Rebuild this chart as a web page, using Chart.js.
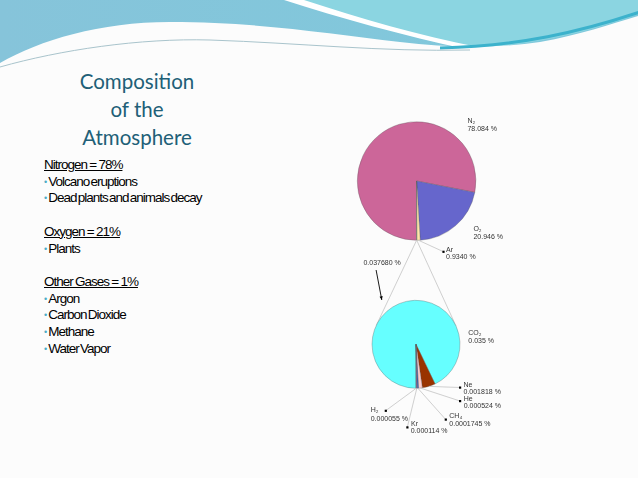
<!DOCTYPE html>
<html>
<head>
<meta charset="utf-8">
<script src="https://cdn.jsdelivr.net/npm/chart.js@4.4.0/dist/chart.umd.min.js"></script>
<style>
  html, body { margin: 0; padding: 0; }
  body { width: 638px; height: 478px; background: #fcfcfc; position: relative; overflow: hidden; }
  #header { position: absolute; left: 0; top: 0; }
  #title {
    position: absolute; left: 37px; top: 67px; width: 200px;
    text-align: center; font-family: Lato, "Open Sans", sans-serif;
    font-size: 20.5px; line-height: 28px; color: #215f77;
  }
  #notes {
    position: absolute; left: 44px; top: 157px;
    font-family: "Liberation Sans", Arial, sans-serif; font-size: 13.5px;
    line-height: 16.7px; color: #000; letter-spacing: -1px; word-spacing: -1.5px;
  }
  #notes .head { text-decoration: underline; letter-spacing: -1px; word-spacing: -0.5px; }
  #notes .dot { color: #4bacc6; font-size: 9px; margin-right: 2px; vertical-align: 1px; }
  #pies { position: absolute; left: 330px; top: 100px; width: 220px; height: 350px; }
  #pies canvas { position: absolute; left: 0; top: 0; }
</style>
</head>
<body>
<svg id="header" width="638" height="80">
  <defs>
    <linearGradient id="sky" x1="0" y1="0" x2="1" y2="0">
      <stop offset="0" stop-color="#86c4da"/>
      <stop offset="1" stop-color="#7fc9dc"/>
    </linearGradient>
  </defs>
  <rect width="638" height="80" fill="url(#sky)"/>
  <path fill="#8bd5e1" d="M300,0 L638,0 L638,14 C590,32 530,46 470,48 C400,32 340,14 300,0 Z"/>
  <path fill="#ffffff" d="M284,0 L304,0 C360,18 420,36 478,47 L466,49 C405,36 340,18 284,0 Z"/>
  <path fill="#fcfcfc" d="M0,80 L0,63 C40,40 100,22 170,22 C260,22 330,34 400,42 C450,48 500,48 540,42 C580,35 610,24 638,16 L638,80 Z"/>
  <path fill="none" stroke="#3cb2cc" stroke-width="3" d="M440,48 C520,46 580,32 640,12"/>
  <path fill="none" stroke="#a9c4cc" stroke-width="1" d="M0,67 C60,50 140,38 210,40 C300,43 380,52 470,50"/>
</svg>

<div id="title">Composition<br>of the<br>Atmosphere</div>

<div id="notes">
  <div><span class="head">Nitrogen = 78%</span></div>
  <div><span class="dot">•</span>Volcano eruptions</div>
  <div><span class="dot">•</span>Dead plants and animals decay</div>
  <div>&nbsp;</div>
  <div><span class="head">Oxygen = 21%</span></div>
  <div><span class="dot">•</span>Plants</div>
  <div>&nbsp;</div>
  <div><span class="head">Other Gases = 1%</span></div>
  <div><span class="dot">•</span>Argon</div>
  <div><span class="dot">•</span>Carbon Dioxide</div>
  <div><span class="dot">•</span>Methane</div>
  <div><span class="dot">•</span>Water Vapor</div>
</div>

<div id="pies">
  <canvas id="mainPie" width="220" height="350"></canvas>
  <canvas id="tracePie" width="220" height="350"></canvas>
</div>

<script>
// whole atmosphere, percent by volume
const mainGases = ['N₂', 'O₂', 'Ar', 'Other'];
const mainPercent = [78.084, 20.946, 0.934, 0.03768];
const mainPercentText = ['78.084 %', '20.946 %', '0.9340 %', '0.037680 %'];
const mainColors = ['#cc6699', '#6666cc', '#ffe6a8', '#66ffff'];

// breakdown of the "other" slice
const traceGases = ['CO₂', 'Ne', 'He', 'CH₄', 'Kr', 'H₂'];
const tracePercent = [0.035, 0.001818, 0.000524, 0.0001745, 0.000114, 0.000055];
const tracePercentText = ['0.035 %', '0.001818 %', '0.000524 %', '0.0001745 %', '0.000114 %', '0.000055 %'];
const traceColors = ['#66ffff', '#993300', '#ffcccc', '#3366cc', '#6666cc', '#cc6699'];

// label placement, offsets from the pie centre
const mainLabelLayout = [
  { name: [50.8, -60], value: [50.8, -51.7] },
  { name: [56.8, 48.3], value: [56.8, 56.3] },
  { dot: [26.8, 70.7], name: [29.5, 69], value: [29.5, 76] },
  { value: [-53.2, 82], arrow: [[-40.5, 89], [-34.8, 119]] }
];
const traceLabelLayout = [
  { name: [52.3, -11], value: [52.3, -3.6] },
  { dot: [44, 43.2], name: [47.5, 40.7], value: [47.5, 47.4] },
  { dot: [44, 56.7], name: [47.7, 55], value: [47.7, 62.2] },
  { dot: [29.7, 75.2], name: [33.3, 72], value: [33.3, 79.4] },
  { dot: [-8.7, 83], name: [-5, 80], value: [-5.3, 87] },
  { dot: [-30.3, 66.4], name: [-45.3, 66], value: [-45.3, 74.5] }
];

let mainChart = null;

const sliceLabels = {
  id: 'sliceLabels',
  beforeDatasetsDraw(chart, args, opts) {
    // pie-of-pie connectors from the "other" slice to the second pie
    if (!opts.connectFrom) return;
    const src = opts.connectFrom.getDatasetMeta(0).data[opts.connectIndex];
    const c = chart.getDatasetMeta(0).data[0];
    const ctx = chart.ctx;
    ctx.save();
    ctx.strokeStyle = '#c9c9c9';
    ctx.lineWidth = 0.9;
    [src.startAngle, src.endAngle].forEach((a, k) => {
      const px = src.x + src.outerRadius * Math.cos(a);
      const py = src.y + src.outerRadius * Math.sin(a);
      const d = Math.hypot(px - c.x, py - c.y);
      const phi = Math.atan2(py - c.y, px - c.x);
      const t = phi + (k === 0 ? 1 : -1) * Math.acos(c.outerRadius / d);
      ctx.beginPath();
      ctx.moveTo(px, py);
      ctx.lineTo(c.x + c.outerRadius * Math.cos(t), c.y + c.outerRadius * Math.sin(t));
      ctx.stroke();
    });
    ctx.restore();
  },
  afterDatasetsDraw(chart, args, opts) {
    const meta = chart.getDatasetMeta(0);
    const ctx = chart.ctx;
    const cx = meta.data[0].x, cy = meta.data[0].y;
    ctx.save();
    ctx.font = '7px "Liberation Sans", Arial, sans-serif';
    ctx.textBaseline = 'middle';
    ctx.textAlign = 'left';
    opts.layout.forEach((l, i) => {
      const arc = meta.data[i];
      if (l.dot) {
        const mid = (arc.startAngle + arc.endAngle) / 2;
        ctx.strokeStyle = '#c9c9c9';
        ctx.lineWidth = 0.9;
        ctx.beginPath();
        ctx.moveTo(cx + arc.outerRadius * Math.cos(mid), cy + arc.outerRadius * Math.sin(mid));
        ctx.lineTo(cx + l.dot[0], cy + l.dot[1]);
        ctx.stroke();
        ctx.fillStyle = '#000';
        ctx.fillRect(cx + l.dot[0] - 1, cy + l.dot[1] - 1, 2.2, 2.2);
      }
      ctx.fillStyle = '#333';
      if (l.name) ctx.fillText(opts.names[i], cx + l.name[0], cy + l.name[1]);
      if (l.value) ctx.fillText(opts.values[i], cx + l.value[0], cy + l.value[1]);
      if (l.arrow) {
        const [a, b] = l.arrow;
        const x1 = cx + a[0], y1 = cy + a[1], x2 = cx + b[0], y2 = cy + b[1];
        const ang = Math.atan2(y2 - y1, x2 - x1);
        ctx.strokeStyle = '#000';
        ctx.lineWidth = 0.9;
        ctx.beginPath();
        ctx.moveTo(x1, y1);
        ctx.lineTo(x2, y2);
        ctx.stroke();
        ctx.fillStyle = '#000';
        ctx.beginPath();
        ctx.moveTo(x2, y2);
        ctx.lineTo(x2 - 4 * Math.cos(ang - 0.4), y2 - 4 * Math.sin(ang - 0.4));
        ctx.lineTo(x2 - 4 * Math.cos(ang + 0.4), y2 - 4 * Math.sin(ang + 0.4));
        ctx.closePath();
        ctx.fill();
      }
    });
    ctx.restore();
  }
};

mainChart = new Chart(document.getElementById('mainPie'), {
  type: 'pie',
  data: {
    labels: mainGases,
    datasets: [{
      data: mainPercent,
      backgroundColor: mainColors,
      borderColor: 'rgba(90,90,90,0.55)',
      borderWidth: 0.6
    }]
  },
  options: {
    responsive: false,
    animation: false,
    rotation: 180,
    layout: { padding: { left: 27, top: 21.4, right: 73.8, bottom: 209.4 } },
    plugins: {
      legend: { display: false },
      tooltip: { enabled: false },
      sliceLabels: { layout: mainLabelLayout, names: mainGases, values: mainPercentText }
    }
  },
  plugins: [sliceLabels]
});

new Chart(document.getElementById('tracePie'), {
  type: 'pie',
  data: {
    labels: traceGases,
    datasets: [{
      data: tracePercent,
      backgroundColor: traceColors,
      borderColor: 'rgba(90,90,90,0.55)',
      borderWidth: 0.6
    }]
  },
  options: {
    responsive: false,
    animation: false,
    rotation: 180,
    layout: { padding: { left: 41.7, top: 200, right: 89.7, bottom: 61.4 } },
    plugins: {
      legend: { display: false },
      tooltip: { enabled: false },
      sliceLabels: {
        layout: traceLabelLayout, names: traceGases, values: tracePercentText,
        connectFrom: mainChart, connectIndex: 3
      }
    }
  },
  plugins: [sliceLabels]
});
</script>
</body>
</html>
